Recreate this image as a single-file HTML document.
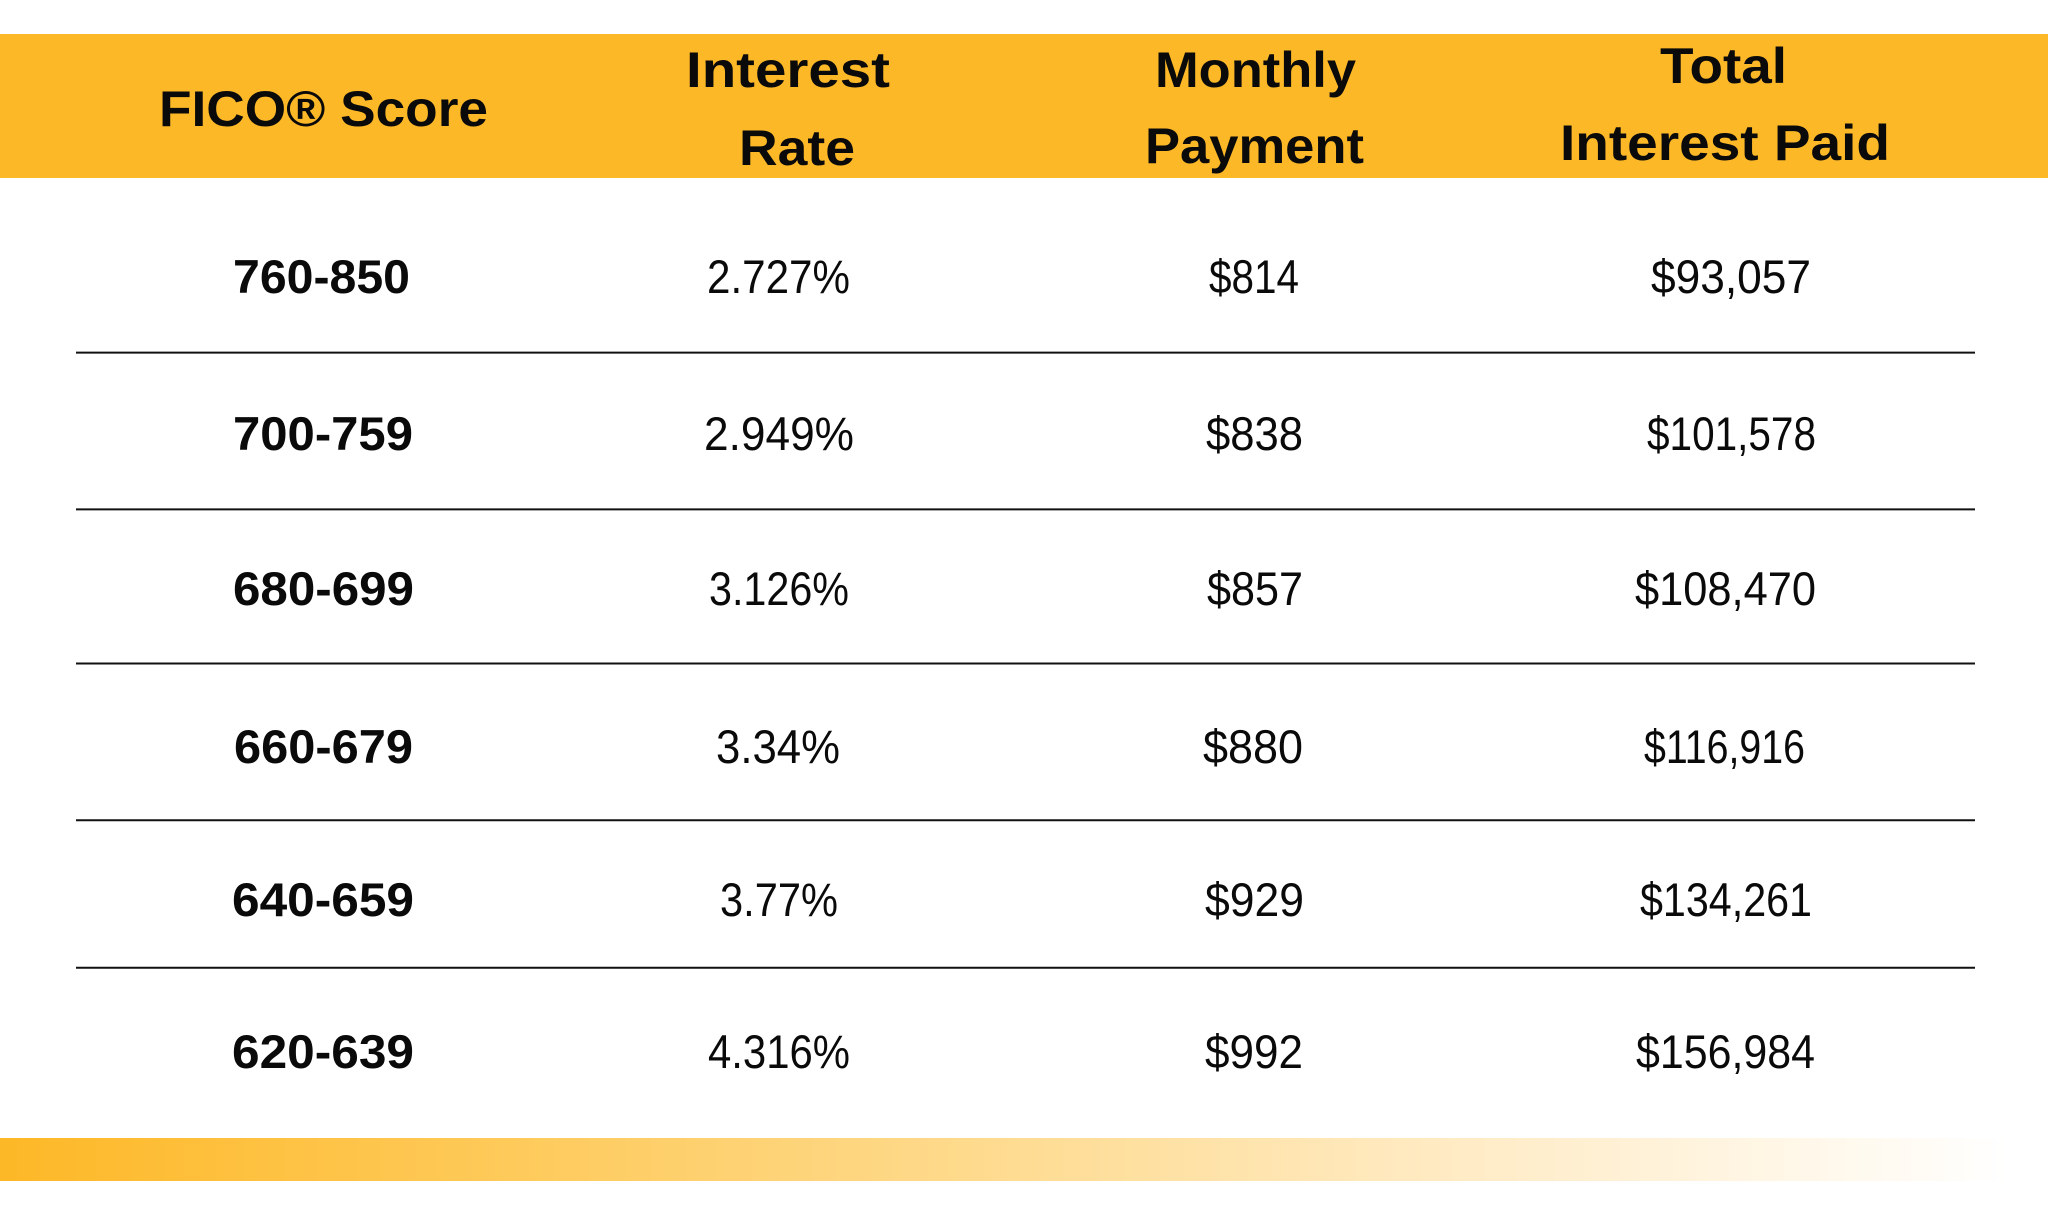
<!DOCTYPE html>
<html>
<head>
<meta charset="utf-8">
<style>
  html, body { margin: 0; padding: 0; background: #ffffff; }
  body { width: 2048px; height: 1221px; overflow: hidden; }
  svg { display: block; }
  .h { font-family: "Liberation Sans", sans-serif; font-weight: 700; font-size: 50px; fill: #0a0a0a; }
  .b { font-family: "Liberation Sans", sans-serif; font-weight: 700; font-size: 47px; fill: #0a0a0a; }
  .r { font-family: "Liberation Sans", sans-serif; font-weight: 400; font-size: 47px; fill: #0a0a0a; }
</style>
</head>
<body>
<svg width="2048" height="1221" viewBox="0 0 2048 1221" xmlns="http://www.w3.org/2000/svg">
  <defs>
    <linearGradient id="g" x1="0" y1="0" x2="1" y2="0">
      <stop offset="0" stop-color="#FDB827"/>
      <stop offset="0.25" stop-color="#FECA5A"/>
      <stop offset="0.5" stop-color="#FEDC93"/>
      <stop offset="0.7" stop-color="#FFEAC2"/>
      <stop offset="0.85" stop-color="#FFF5E2"/>
      <stop offset="0.98" stop-color="#FFFFFF"/>
    </linearGradient>
  </defs>
  <rect x="0" y="0" width="2048" height="1221" fill="#ffffff"/>
  <!-- header band -->
  <rect x="0" y="34" width="2048" height="144" fill="#FDB827"/>

  <!-- header text -->
  <text class="h" x="159" y="126" textLength="329" lengthAdjust="spacingAndGlyphs">FICO® Score</text>
  <text class="h" x="686" y="87" textLength="204" lengthAdjust="spacingAndGlyphs">Interest</text>
  <text class="h" x="739" y="165" textLength="116" lengthAdjust="spacingAndGlyphs">Rate</text>
  <text class="h" x="1155" y="87" textLength="201" lengthAdjust="spacingAndGlyphs">Monthly</text>
  <text class="h" x="1145" y="163" textLength="219" lengthAdjust="spacingAndGlyphs">Payment</text>
  <text class="h" x="1660" y="83" textLength="127" lengthAdjust="spacingAndGlyphs">Total</text>
  <text class="h" x="1560" y="160" textLength="330" lengthAdjust="spacingAndGlyphs">Interest Paid</text>

  <!-- separator lines -->
  <g stroke="#111111" stroke-width="2">
    <line x1="76" y1="352.6" x2="1975" y2="352.6"/>
    <line x1="76" y1="509.4" x2="1975" y2="509.4"/>
    <line x1="76" y1="663.5" x2="1975" y2="663.5"/>
    <line x1="76" y1="820.2" x2="1975" y2="820.2"/>
    <line x1="76" y1="967.8" x2="1975" y2="967.8"/>
  </g>

  <!-- row 1 -->
  <text class="b" x="233" y="293" textLength="177" lengthAdjust="spacingAndGlyphs">760-850</text>
  <text class="r" x="707" y="293" textLength="143" lengthAdjust="spacingAndGlyphs">2.727%</text>
  <text class="r" x="1209" y="293" textLength="90" lengthAdjust="spacingAndGlyphs">$814</text>
  <text class="r" x="1651" y="293" textLength="160" lengthAdjust="spacingAndGlyphs">$93,057</text>

  <!-- row 2 -->
  <text class="b" x="233" y="450" textLength="180" lengthAdjust="spacingAndGlyphs">700-759</text>
  <text class="r" x="704" y="450" textLength="150" lengthAdjust="spacingAndGlyphs">2.949%</text>
  <text class="r" x="1206" y="450" textLength="97" lengthAdjust="spacingAndGlyphs">$838</text>
  <text class="r" x="1647" y="450" textLength="169" lengthAdjust="spacingAndGlyphs">$101,578</text>

  <!-- row 3 -->
  <text class="b" x="233" y="605" textLength="181" lengthAdjust="spacingAndGlyphs">680-699</text>
  <text class="r" x="709" y="605" textLength="140" lengthAdjust="spacingAndGlyphs">3.126%</text>
  <text class="r" x="1207" y="605" textLength="96" lengthAdjust="spacingAndGlyphs">$857</text>
  <text class="r" x="1635" y="605" textLength="181" lengthAdjust="spacingAndGlyphs">$108,470</text>

  <!-- row 4 -->
  <text class="b" x="234" y="763" textLength="179" lengthAdjust="spacingAndGlyphs">660-679</text>
  <text class="r" x="716" y="763" textLength="124" lengthAdjust="spacingAndGlyphs">3.34%</text>
  <text class="r" x="1203" y="763" textLength="100" lengthAdjust="spacingAndGlyphs">$880</text>
  <text class="r" x="1644" y="763" textLength="161" lengthAdjust="spacingAndGlyphs">$116,916</text>

  <!-- row 5 -->
  <text class="b" x="232" y="916" textLength="182" lengthAdjust="spacingAndGlyphs">640-659</text>
  <text class="r" x="720" y="916" textLength="118" lengthAdjust="spacingAndGlyphs">3.77%</text>
  <text class="r" x="1205" y="916" textLength="99" lengthAdjust="spacingAndGlyphs">$929</text>
  <text class="r" x="1640" y="916" textLength="172" lengthAdjust="spacingAndGlyphs">$134,261</text>

  <!-- row 6 -->
  <text class="b" x="232" y="1068" textLength="182" lengthAdjust="spacingAndGlyphs">620-639</text>
  <text class="r" x="708" y="1068" textLength="142" lengthAdjust="spacingAndGlyphs">4.316%</text>
  <text class="r" x="1205" y="1068" textLength="98" lengthAdjust="spacingAndGlyphs">$992</text>
  <text class="r" x="1636" y="1068" textLength="179" lengthAdjust="spacingAndGlyphs">$156,984</text>

  <!-- bottom gradient bar -->
  <rect x="0" y="1138" width="2048" height="43" fill="url(#g)"/>
</svg>
</body>
</html>
